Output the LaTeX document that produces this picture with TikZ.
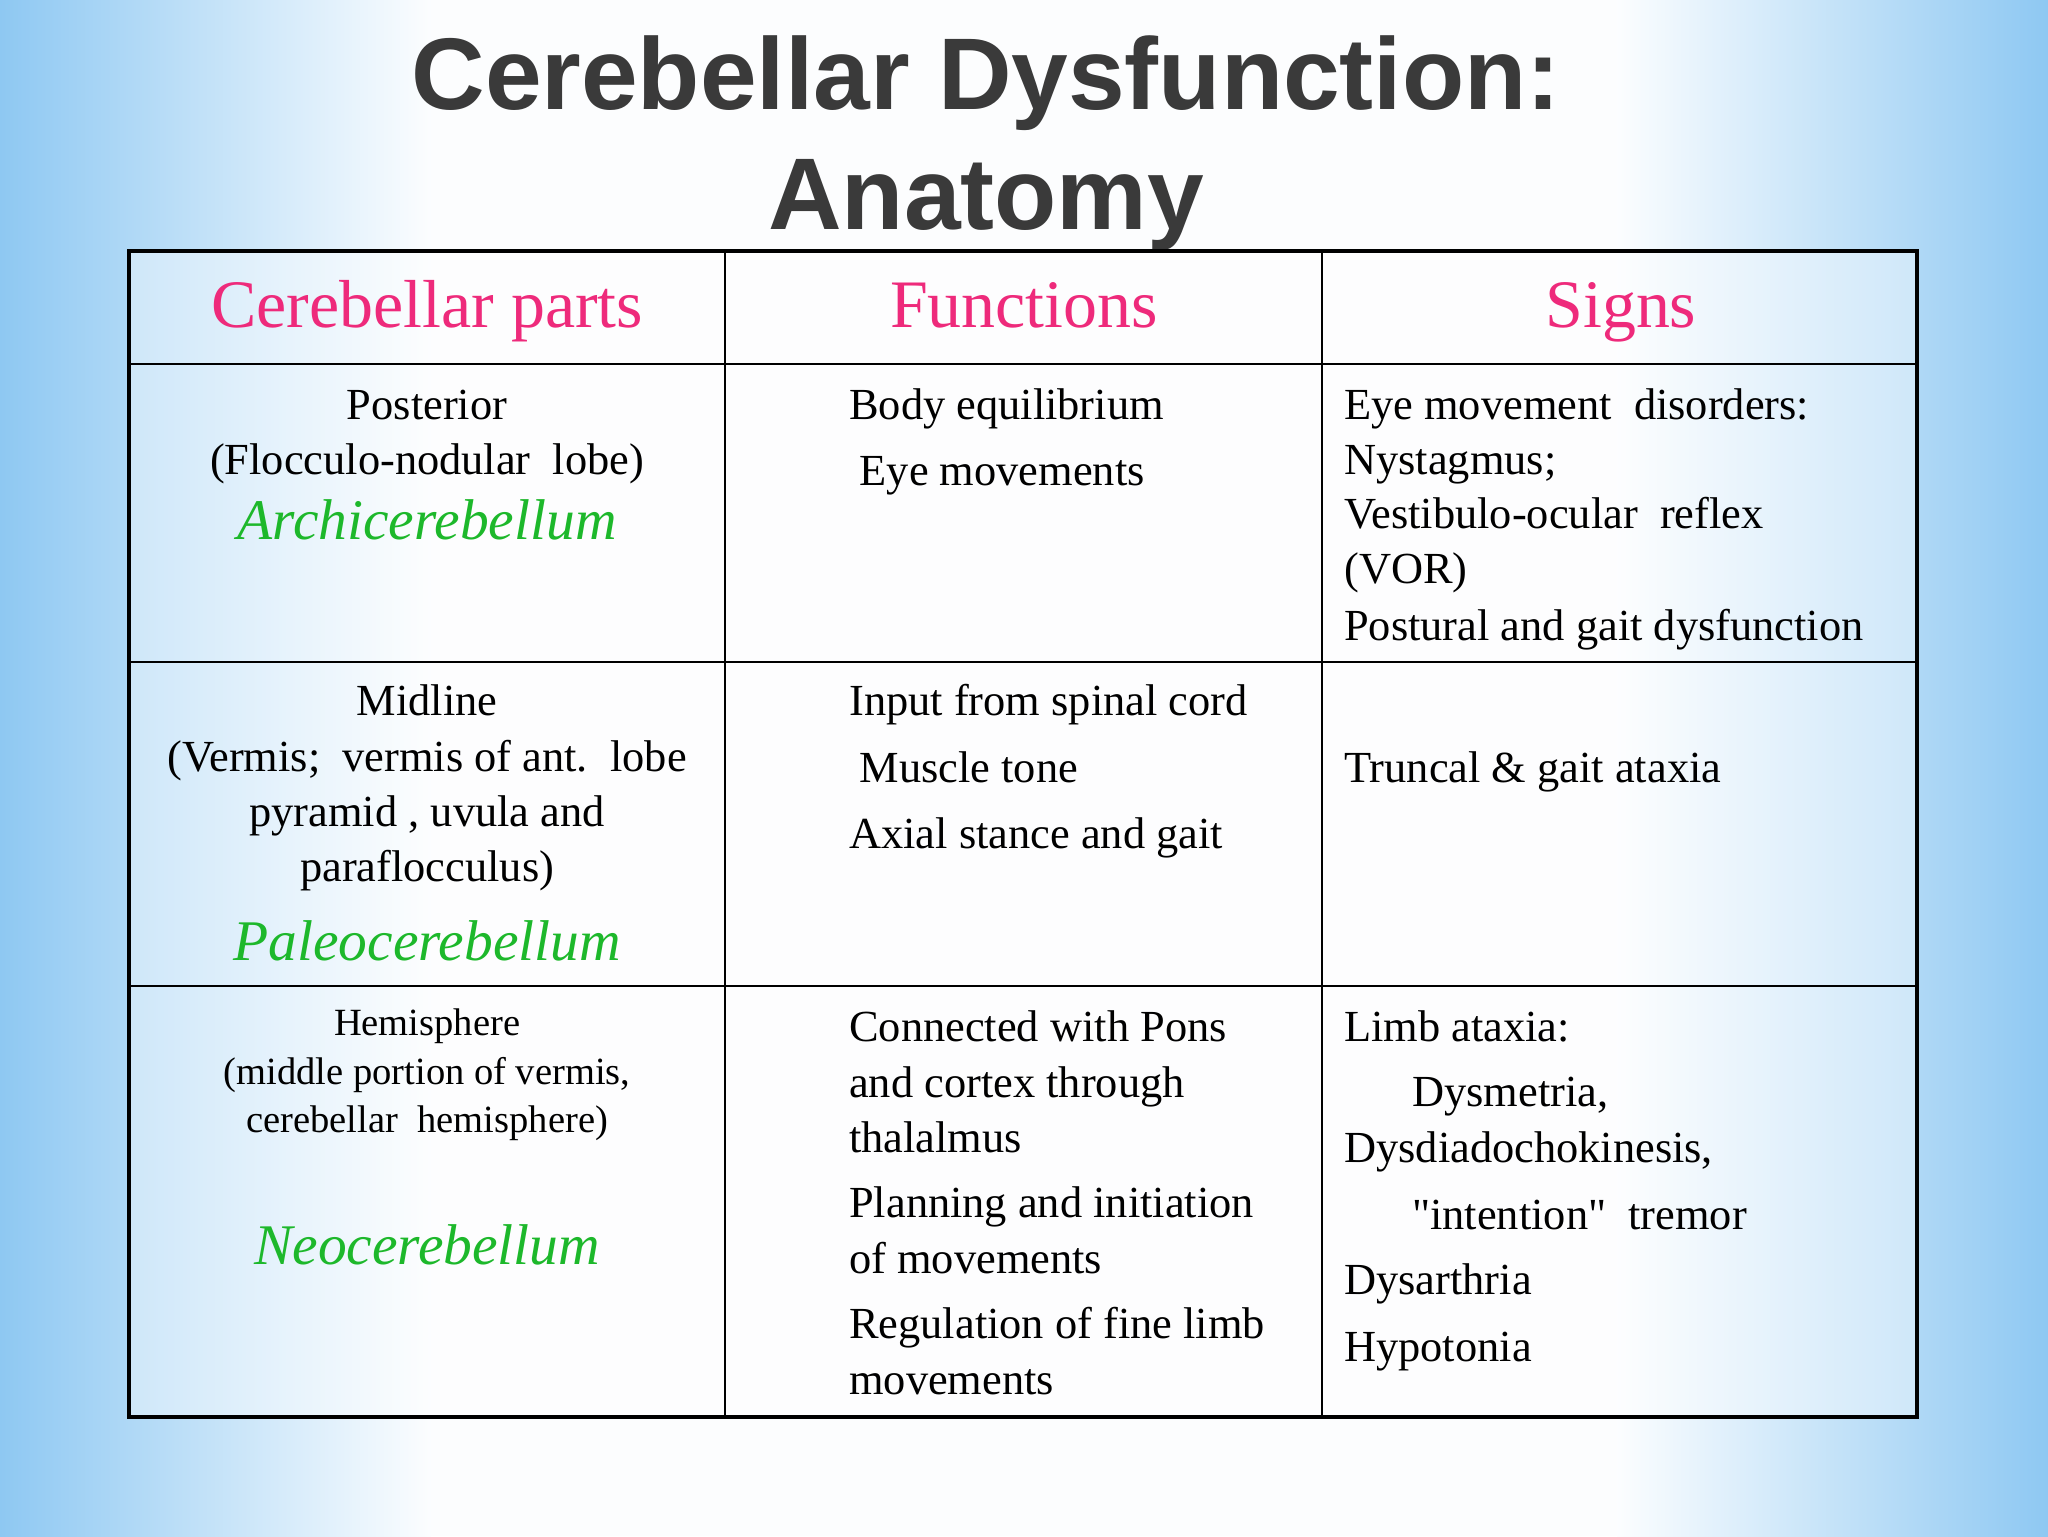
\documentclass[tikz,border=0pt]{standalone}
\usepackage{fontspec}
\setmainfont{Liberation Serif}
\newfontfamily\titlefont{Liberation Sans}
\newfontfamily\qfont[Ligatures=TeXOff]{Liberation Serif}
\definecolor{bgblue}{HTML}{8EC8F2}
\definecolor{pinkh}{HTML}{EE2A7B}
\definecolor{greent}{HTML}{1DB82B}
\definecolor{titlec}{HTML}{3A3A3A}
\tikzset{
 body/.style={font=\fontsize{34}{38}\selectfont, inner sep=0pt},
 small/.style={font=\fontsize{29.5}{33}\selectfont, inner sep=0pt},
 hdr/.style={font=\fontsize{52}{58}\selectfont, text=pinkh, inner sep=0pt},
 grn/.style={font=\fontsize{44}{48}\selectfont\itshape, text=greent, inner sep=0pt},
 ttl/.style={font=\titlefont\bfseries\fontsize{78}{84}\selectfont, text=titlec, inner sep=0pt},
}
\begin{document}
\begin{tikzpicture}[x=1pt,y=-1pt]
\useasboundingbox (0,0) rectangle (1568,1176);
\fill[white!97!bgblue] (0,0) rectangle (1568,1176);
\shade[left color=bgblue, right color=white!97!bgblue] (0,0) rectangle (330,1176);
\shade[left color=white!97!bgblue, right color=bgblue] (1238,0) rectangle (1568,1176);
\node[ttl, anchor=base] (t1) at (755,84) {Cerebellar Dysfunction:};
\node[ttl, anchor=base] (t2) at (755,176) {Anatomy};
\fill[white, opacity=0.4] (99,192) rectangle (1468,1085);
\draw[line width=1.5pt] (555,192) -- (555,1085) (1012,192) -- (1012,1085)
  (99,279) -- (1468,279) (99,507) -- (1468,507) (99,755) -- (1468,755);
\draw[line width=3pt] (99,192) rectangle (1468,1085);
\node[hdr, anchor=base] (h1) at (327,251) {Cerebellar parts};
\node[hdr, anchor=base] (h2) at (784,251) {Functions};
\node[hdr, anchor=base] (h3) at (1241,251) {Signs};
% col 1
\node[body, anchor=base] (a1) at (327,321) {Posterior};
\node[body, anchor=base] (a2) at (327,363) {(Flocculo-nodular\ \ lobe)};
\node[grn, anchor=base] (a3) at (327,413) {Archicerebellum};
\node[body, anchor=base] (b1) at (327,548) {Midline};
\node[body, anchor=base] (b2) at (327,591) {(Vermis;\ \ vermis of ant.\ \ lobe};
\node[body, anchor=base] (b3) at (327,633) {pyramid , uvula and};
\node[body, anchor=base] (b4) at (327,675) {paraflocculus)};
\node[grn, anchor=base] (b5) at (327,735) {Paleocerebellum};
\node[small, anchor=base] (c1) at (327,793) {Hemisphere};
\node[small, anchor=base] (c2) at (327,830) {(middle portion of vermis,};
\node[small, anchor=base] (c3) at (327,867) {cerebellar\ \ hemisphere)};
\node[grn, anchor=base] (c4) at (327,968) {Neocerebellum};
% col 2
\node[body, anchor=base west] (f1) at (650,321) {Body equilibrium};
\node[body, anchor=base west] (f2) at (658,372) {Eye movements};
\node[body, anchor=base west] (f3) at (650,548) {Input from spinal cord};
\node[body, anchor=base west] (f4) at (658,599) {Muscle tone};
\node[body, anchor=base west] (f5) at (650,650) {Axial stance and gait};
\node[body, anchor=base west] (f6) at (650,797) {Connected with Pons};
\node[body, anchor=base west] (f7) at (650,840) {and cortex through};
\node[body, anchor=base west] (f8) at (650,882) {thalalmus};
\node[body, anchor=base west] (f9) at (650,932) {Planning and initiation};
\node[body, anchor=base west] (f10) at (650,975) {of movements};
\node[body, anchor=base west] (f11) at (650,1025) {Regulation of fine limb};
\node[body, anchor=base west] (f12) at (650,1068) {movements};
% col 3
\node[body, anchor=base west] (s1) at (1029,321) {Eye movement\ \ disorders:};
\node[body, anchor=base west] (s2) at (1029,363) {Nystagmus;};
\node[body, anchor=base west] (s3) at (1029,405) {Vestibulo-ocular\ \ reflex};
\node[body, anchor=base west] (s4) at (1029,447) {(VOR)};
\node[body, anchor=base west] (s5) at (1029,490) {Postural and gait dysfunction};
\node[body, anchor=base west] (s6) at (1029,599) {Truncal \& gait ataxia};
\node[body, anchor=base west] (s7) at (1029,797) {Limb ataxia:};
\node[body, anchor=base west] (s8) at (1081,847) {Dysmetria,};
\node[body, anchor=base west] (s9) at (1029,890) {Dysdiadochokinesis,};
\node[body, anchor=base west] (s10) at (1081,941) {{\qfont"}intention{\qfont"}\ \ tremor};
\node[body, anchor=base west] (s11) at (1029,991) {Dysarthria};
\node[body, anchor=base west] (s12) at (1029,1042) {Hypotonia};
\end{tikzpicture}
\end{document}
